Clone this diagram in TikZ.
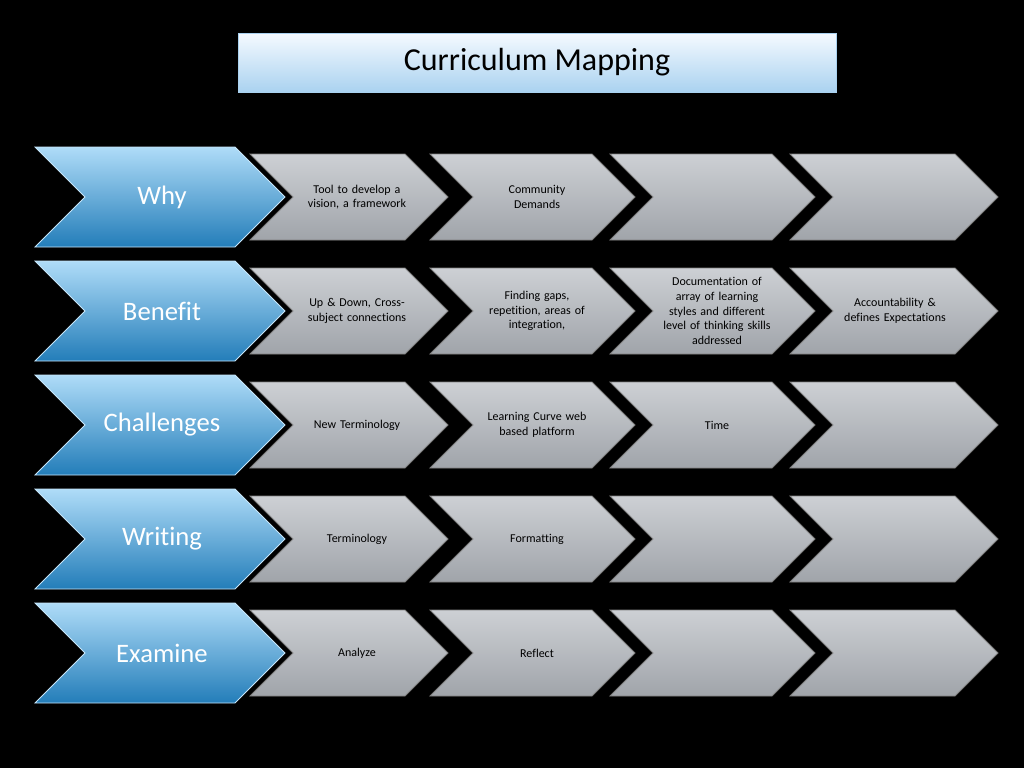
\documentclass[tikz,border=0pt]{standalone}
\usepackage{fontspec}
\setmainfont[RawFeature={-liga;-clig;-calt;-dlig}]{Carlito}
\definecolor{btop}{RGB}{175,220,248}
\definecolor{bbot}{RGB}{35,125,185}
\definecolor{gtop}{RGB}{205,208,212}
\definecolor{gbot}{RGB}{160,164,170}
\definecolor{ttop}{RGB}{245,250,255}
\definecolor{tbot}{RGB}{170,210,240}
\begin{document}
\begin{tikzpicture}[x=0.75pt,y=-0.75pt,
  graychev/.style={top color=gtop,bottom color=gbot,draw=black!50,line width=0.6pt},
  bluechev/.style={top color=btop,bottom color=bbot,draw=btop!70!white,line width=0.6pt},
  small/.style={font=\fontsize{9}{11}\selectfont,align=center,text width=110pt},
  big/.style={font=\fontsize{20}{24}\selectfont,text=white}]
\fill[black] (0,0) rectangle (1024,768);
\useasboundingbox (0,0) rectangle (1024,768);
\shade[top color=ttop,bottom color=tbot,draw=tbot] (238,33) rectangle (836,92);
\node[font=\fontsize{24}{28}\selectfont] (title) at (537,62) {Curriculum Mapping};
\newcommand{\mychev}[5]{% x ytop w h style
  \shade[#5] (#1,#2) -- ({#1+#3-#4*0.5},#2) -- ({#1+#3},{#2+#4/2}) -- ({#1+#3-#4*0.5},{#2+#4}) -- (#1,{#2+#4}) -- ({#1+#4*0.5},{#2+#4/2}) -- cycle;}
\foreach \r/\lab/\a/\b/\c/\d in {
 0/Why/{Tool to develop a\\vision, a framework}/{Community\\Demands}/{}/{},
 1/Benefit/{Up \& Down, Cross-\\subject connections}/{Finding gaps,\\repetition, areas of\\integration,}/{Documentation of\\array of learning\\styles and different\\level of thinking skills\\addressed}/{Accountability \&\\defines Expectations},
 2/Challenges/{New Terminology}/{Learning Curve web\\based platform}/{Time}/{},
 3/Writing/{Terminology}/{Formatting}/{}/{},
 4/Examine/{Analyze}/{Reflect}/{}/{}}{
  \pgfmathsetmacro{\yc}{197+114*\r}
  \mychev{790}{\yc-43}{208}{86}{graychev}
  \mychev{610}{\yc-43}{205}{86}{graychev}
  \mychev{430}{\yc-43}{205}{86}{graychev}
  \mychev{250}{\yc-43}{198}{86}{graychev}
  \mychev{35}{\yc-50}{250}{100}{bluechev}
  \node[big] (l\r) at (162,\yc) {\lab};
  \node[small] (a\r) at (357,\yc) {\a};
  \node[small] (b\r) at (537,\yc) {\b};
  \node[small] (c\r) at (717,\yc) {\c};
  \node[small] (d\r) at (895,\yc) {\d};
}
\end{tikzpicture}
\end{document}
